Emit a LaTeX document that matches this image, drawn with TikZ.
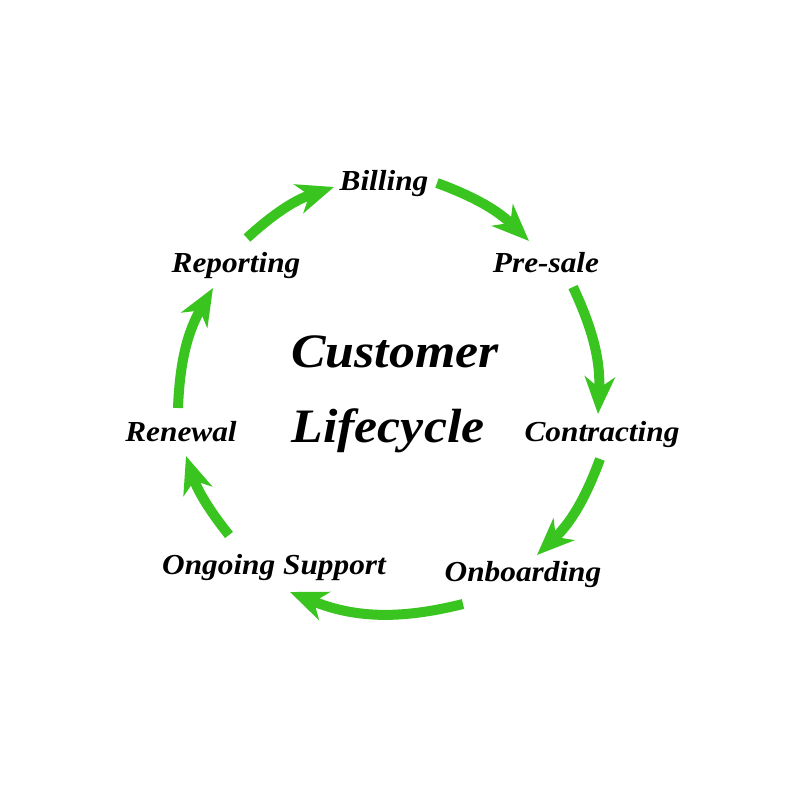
\documentclass[tikz,border=0pt]{standalone}
\usepackage{fontspec}
\setmainfont{Liberation Serif}
\usetikzlibrary{arrows.meta}
\definecolor{arrgreen}{RGB}{58,196,32}
\tikzset{
  lbl/.style={font=\fontsize{29}{32}\selectfont\bfseries\itshape, anchor=base, inner sep=0pt, xscale=1.08},
  title/.style={font=\fontsize{48}{52}\selectfont\bfseries\itshape, anchor=base, inner sep=0pt, xscale=1.08},
  cyc/.style={draw=arrgreen, line width=10pt, -{Stealth[length=37pt,width=30pt,inset=11pt]}}
}
\begin{document}
\begin{tikzpicture}[x=1pt,y=1pt]
\useasboundingbox (0,0) rectangle (800,-800);
\fill[white] (0,0) rectangle (800,-800);
% labels
\node[lbl] (billing) at (384,-190) {Billing};
\node[lbl] (presale) at (546,-272) {Pre-sale};
\node[lbl] (contract) at (602,-441) {Contracting};
\node[lbl] (onboard) at (523,-581) {Onboarding};
\node[lbl] (support) at (274,-574) {Ongoing Support};
\node[lbl] (renewal) at (181,-441) {Renewal};
\node[lbl] (report) at (236,-272) {Reporting};
\node[title] (cust) at (395,-367) {Customer};
\node[title] (life) at (388,-442) {Lifecycle};
% arrow endpoints
\coordinate (a1s) at (247,-238); \coordinate (a1e) at (334,-187);
\coordinate (a2s) at (437,-183); \coordinate (a2e) at (529,-241);
\coordinate (a3s) at (573,-287); \coordinate (a3e) at (598,-414);
\coordinate (a4s) at (600,-459); \coordinate (a4e) at (537,-555);
\coordinate (a5s) at (463,-604); \coordinate (a5e) at (290,-592);
\coordinate (a6s) at (229,-535); \coordinate (a6e) at (186,-456);
\coordinate (a7s) at (178,-408); \coordinate (a7e) at (213,-288);
\draw[cyc] (a1s) to[bend left=12] (a1e);
\draw[cyc] (a2s) to[bend left=12] (a2e);
\draw[cyc] (a3s) to[bend left=14] (a3e);
\draw[cyc] (a4s) to[bend left=13] (a4e);
\draw[cyc] (a5s) to[bend left=18] (a5e);
\draw[cyc] (a6s) to[bend left=10] (a6e);
\draw[cyc] (a7s) to[bend left=14] (a7e);
\end{tikzpicture}
\end{document}
